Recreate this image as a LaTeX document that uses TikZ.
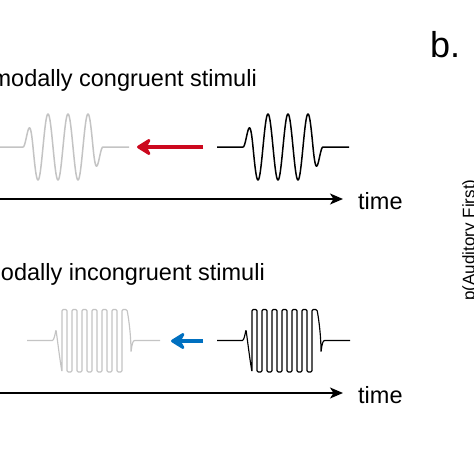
\documentclass[tikz,border=0pt]{standalone}
\usepackage{fontspec}
\setmainfont{Liberation Sans}
\usetikzlibrary{arrows.meta}
\definecolor{wavegray}{RGB}{196,196,196}
\definecolor{cuered}{RGB}{204,8,30}
\definecolor{cueblue}{RGB}{0,112,192}
\tikzset{
  lbl/.style={inner sep=0pt, font=\fontsize{23.5}{28}\selectfont},
  axis/.style={line width=1.5pt, -{Stealth[length=13pt,width=11pt,inset=3.5pt]}},
  cue/.style={line width=4.2pt, -{Stealth[length=17pt,width=21pt,inset=6pt,round]}},
  wave/.style={line width=1.5pt, line join=round},
  sqline/.style={line width=1.15pt, line join=round},
  sinewave/.pic={
    \draw[wave] (0,0) -- (26,0) -- plot[domain=0:80,samples=241]
      ({26+\x},{-33*min(1,\x/10,(80-\x)/10)*sin(18*\x)}) -- (132,0);
  },
  squarewave/.pic={
    \draw[sqline, rounded corners=1.3pt] (0,0) -- (24,0)
      .. controls (27,0) and (28,-6) .. (29,-11)
      .. controls (31,4) and (33,20) .. (35,31.5)
      \foreach \i in {0,...,5}{ -- (35+10*\i,-31) -- (40+10*\i,-31) -- (40+10*\i,31.5) -- (45+10*\i,31.5) }
      -- (95,-31) -- (100,-31)
      .. controls (102,-20) and (104,-4) .. (104,12)
      .. controls (105,3) and (106,0) .. (109,0) -- (133,0);
  }
}
\begin{document}
\begin{tikzpicture}[x=1pt,y=-1pt]
\useasboundingbox (0,0) rectangle (474,474);
\fill[white] (0,0) rectangle (474,474);
\clip (0,0) rectangle (474,474);

% titles
\node[lbl, anchor=base east] (title1) at (257,86) {modally congruent stimuli};
\node[lbl, anchor=base east] (title2) at (265,280) {odally incongruent stimuli};

% top row: sine bursts
\pic[color=wavegray] at (-3,147) {sinewave};
\pic[color=black] at (217,147) {sinewave};
\coordinate (redstart) at (203,147);
\coordinate (redend) at (137,147);
\draw[cue, cuered] (redstart) -- (redend);

% time axis 1
\coordinate (ax1s) at (-5,199);
\coordinate (ax1e) at (343,199);
\draw[axis] (ax1s) -- (ax1e);
\node[lbl, anchor=base west] (time1) at (358,209) {time};

% bottom row: square bursts
\pic[color=wavegray] at (27,340.5) {squarewave};
\pic[color=black] at (217,340.5) {squarewave};
\coordinate (bluestart) at (203,341);
\coordinate (blueend) at (171,341);
\draw[cue, cueblue] (bluestart) -- (blueend);

% time axis 2
\coordinate (ax2s) at (-5,393);
\coordinate (ax2e) at (343,393);
\draw[axis] (ax2s) -- (ax2e);
\node[lbl, anchor=base west] (time2) at (358,403) {time};

% panel b
\node[inner sep=0pt, anchor=base west, font=\fontsize{36}{40}\selectfont] (panelb) at (430,57) {b.};
\node[inner sep=0pt, anchor=base, rotate=90, font=\fontsize{17}{20}\selectfont] (ylab) at (474.5,240) {p(Auditory First)};
\end{tikzpicture}
\end{document}
